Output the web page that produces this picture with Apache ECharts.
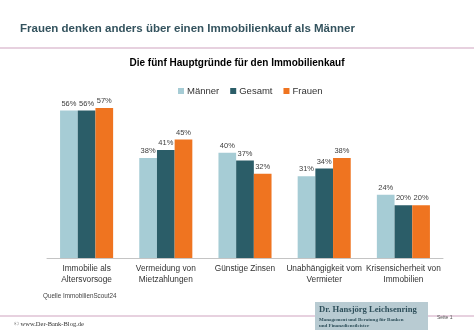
<!DOCTYPE html>
<html>
<head>
<meta charset="utf-8">
<script src="https://cdn.jsdelivr.net/npm/echarts@6/dist/echarts.min.js"></script>
<style>
  html, body { margin: 0; padding: 0; background: #fff; }
  #chart { width: 474px; height: 330px; }
</style>
</head>
<body>
<div id="chart"></div>
<script>
// Hauptgründe für den Immobilienkauf (Angaben in %)
const categories = [
  'Immobilie als\nAltersvorsoge',
  'Vermeidung von\nMietzahlungen',
  'Günstige Zinsen',
  'Unabhängigkeit vom\nVermieter',
  'Krisensicherheit von\nImmobilien'
];
const maenner = [56, 38, 40, 31, 24];
const gesamt  = [56, 41, 37, 34, 20];
const frauen  = [57, 45, 32, 38, 20];

const seriesNames = ['Männer', 'Gesamt', 'Frauen'];
const seriesColors = ['#a6ccd5', '#2b5d68', '#ef7420'];
const seriesData = [maenner, gesamt, frauen];

const chart = echarts.init(document.getElementById('chart'), null, { renderer: 'canvas' });

const font = 'Liberation Sans, Arial, sans-serif';

chart.setOption({
  animation: false,
  backgroundColor: '#ffffff',
  title: [
    {
      text: 'Frauen denken anders über einen Immobilienkauf als Männer',
      left: 15, top: 18,
      textStyle: { fontFamily: font, fontSize: 11.5, fontWeight: 'bold', color: '#34535e' }
    },
    {
      text: 'Die fünf Hauptgründe für den Immobilienkauf',
      left: 'center', top: 53,
      textStyle: { fontFamily: font, fontSize: 10, fontWeight: 'bold', color: '#000' }
    }
  ],
  legend: {
    top: 81, left: 173,
    itemWidth: 6, itemHeight: 6, itemGap: 11,
    icon: 'rect',
    textStyle: { fontFamily: font, fontSize: 9.5, color: '#333', padding: [0, 0, 0, -2] },
    data: seriesNames
  },
  grid: { left: 47, right: 31, top: 100, bottom: 72, containLabel: false },
  xAxis: {
    type: 'category',
    data: categories,
    axisLine: { lineStyle: { color: '#c4c4c4', width: 1 } },
    axisTick: { show: false },
    axisLabel: { fontFamily: font, fontSize: 8.3, color: '#333', margin: 5, lineHeight: 11, interval: 0 }
  },
  yAxis: {
    type: 'value', min: 0, max: 60,
    show: false,
    splitLine: { show: false }
  },
  series: seriesNames.map((name, i) => ({
    name,
    type: 'bar',
    data: seriesData[i],
    itemStyle: { color: seriesColors[i] },
    barGap: '0%',
    barCategoryGap: '33%',
    label: {
      show: true, position: 'top', distance: 3,
      formatter: '{c}%',
      fontFamily: font, fontSize: 7.5, color: '#404040'
    }
  })),
  graphic: [
    { type: 'line', shape: { x1: 0, y1: 48, x2: 474, y2: 48 }, style: { stroke: '#cfa3bf', lineWidth: 1 } },
    { type: 'text', left: 43, top: 293,
      style: { text: 'Quelle ImmobilienScout24', font: '6.3px ' + font, fill: '#444' } },
    { type: 'line', shape: { x1: 0, y1: 316, x2: 474, y2: 316 }, style: { stroke: '#cfa3bf', lineWidth: 1 } },
    { type: 'rect', shape: { x: 315, y: 302, width: 113, height: 28 }, style: { fill: '#b8cbd2' } },
    { type: 'text', left: 319, top: 305,
      style: { text: 'Dr. Hansjörg Leichsenring', font: 'bold 8.6px "Liberation Serif", "DejaVu Serif", serif', fill: '#2e4f5a' } },
    { type: 'text', left: 319, top: 317,
      style: { text: 'Management und Beratung für Banken\nund Finanzdienstleister', font: 'bold 5px "Liberation Serif", serif', fill: '#2e4f5a', lineHeight: 6 } },
    { type: 'text', left: 437, top: 315,
      style: { text: 'Seite 1', font: '5px ' + font, fill: '#555' } },
    { type: 'text', left: 14, top: 321,
      style: { text: '© www.Der-Bank-Blog.de', font: '6.5px "Liberation Serif", serif', fill: '#333' } }
  ]
});
</script>
</body>
</html>
